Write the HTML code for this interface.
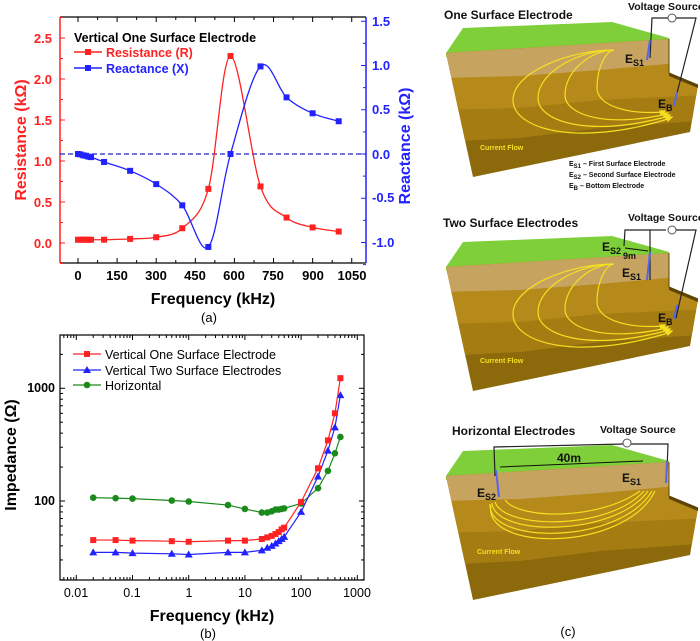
<!DOCTYPE html>
<html><head><meta charset="utf-8"><style>
body{margin:0;background:#fff}
svg{display:block}
text{font-family:"Liberation Sans",sans-serif}
.b{font-weight:bold}
.c{font-family:"DejaVu Sans","Liberation Sans",sans-serif;font-weight:bold}
</style></head><body>
<svg id="s" width="700" height="641" viewBox="0 0 700 641" xmlns="http://www.w3.org/2000/svg">
<defs>
<clipPath id="fc"><path d="M446,53 L669,39 L669,73 L698,85 L690,132 L473,177 Z"/></clipPath>
<g id="blk">
  <path d="M446,53 L463,28 L612,22 L669,38 L669,40 L446,55 Z" fill="#7fcf3a"/>
  <path d="M446,53 L669,39 L669,42 L446,57 Z" fill="#a6e83a"/>
  <g clip-path="url(#fc)">
    <rect x="440" y="30" width="270" height="160" fill="#8c6a0c"/>
    <path d="M440,0 L710,0 L710,120 L600,128 L520,138 L440,142 Z" fill="#a47c12"/>
    <path d="M440,0 L710,0 L710,95 L600,100 L520,108 L440,110 Z" fill="#b5891a"/>
    <path d="M440,0 L710,0 L710,60 L600,70 L520,76 L440,78 Z" fill="#c6a460"/>
  </g>
  <path d="M669,73 L698,85 L698,88 L669,76 Z" fill="#5e4506"/>
  <path d="M669,39 L669,73 L698,85" fill="none" stroke="#5e4506" stroke-width="1"/>
</g>
</defs>
<rect width="700" height="641" fill="#fff"/>

<!-- ===== Chart (a) ===== -->
<g id="ga">
<line x1="60" y1="17" x2="366" y2="17" stroke="#000" stroke-width="1.2"/>
<line x1="60" y1="263" x2="366" y2="263" stroke="#000" stroke-width="1.2"/>
<line x1="60" y1="17" x2="60" y2="263" stroke="#f22" stroke-width="1.5"/>
<line x1="366" y1="17" x2="366" y2="263" stroke="#22f" stroke-width="1.5"/>
<line x1="60" y1="154" x2="366" y2="154" stroke="#22c" stroke-width="1.3" stroke-dasharray="5,3"/>
</g>
<g class="b" font-size="13" fill="#f22" text-anchor="end">
<text x="52" y="248">0.0</text><text x="52" y="207">0.5</text><text x="52" y="166">1.0</text><text x="52" y="125">1.5</text><text x="52" y="84">2.0</text><text x="52" y="43">2.5</text>
</g>
<g class="b" font-size="13" fill="#22f">
<text x="372" y="247">-1.0</text><text x="372" y="202">-0.5</text><text x="372" y="159">0.0</text><text x="372" y="114">0.5</text><text x="372" y="70">1.0</text><text x="372" y="26">1.5</text>
</g>
<g class="b" font-size="13" fill="#000" text-anchor="middle">
<text x="78" y="280">0</text><text x="117" y="280">150</text><text x="156" y="280">300</text><text x="195" y="280">450</text><text x="234" y="280">600</text><text x="273" y="280">750</text><text x="313" y="280">900</text><text x="352" y="280">1050</text>
</g>
<text class="b" x="213" y="304" font-size="16" text-anchor="middle">Frequency (kHz)</text>
<text x="209" y="322" font-size="13" text-anchor="middle">(a)</text>
<text class="b" x="26" y="140" font-size="16" fill="#f22" text-anchor="middle" transform="rotate(-90 26 140)">Resistance (kΩ)</text>
<text class="b" x="410" y="146" font-size="16" fill="#22f" text-anchor="middle" transform="rotate(-90 410 146)">Reactance (kΩ)</text>
<text class="b" x="74" y="42" font-size="12.5">Vertical One Surface Electrode</text>
<line x1="74" y1="52" x2="102" y2="52" stroke="#f22" stroke-width="1.5"/><rect x="85" y="49" width="6" height="6" fill="#f22"/>
<text class="b" x="106" y="57" font-size="12.5" fill="#f22">Resistance (R)</text>
<line x1="74" y1="68" x2="102" y2="68" stroke="#22f" stroke-width="1.5"/><rect x="85" y="65" width="6" height="6" fill="#22f"/>
<text class="b" x="106" y="73" font-size="12.5" fill="#22f">Reactance  (X)</text>
<g id="pa"></g>

<!-- ===== Chart (b) ===== -->
<rect x="60" y="335" width="304" height="245" fill="none" stroke="#000" stroke-width="1.2"/>
<g class="b" font-size="12.5" text-anchor="end">
<text x="55" y="392">1000</text><text x="55" y="505">100</text>
</g>
<g font-size="12.5" text-anchor="middle">
<text x="76" y="597">0.01</text><text x="132" y="597">0.1</text><text x="189" y="597">1</text><text x="245" y="597">10</text><text x="301" y="597">100</text><text x="357" y="597">1000</text>
</g>
<text class="b" x="212" y="621" font-size="16" text-anchor="middle">Frequency (kHz)</text>
<text x="208" y="638" font-size="13" text-anchor="middle">(b)</text>
<text class="b" x="16" y="455" font-size="16" text-anchor="middle" transform="rotate(-90 16 455)">Impedance (Ω)</text>
<line x1="73" y1="354" x2="101" y2="354" stroke="#f22" stroke-width="1.2"/><rect x="84" y="351" width="6" height="6" fill="#f22"/>
<text x="105" y="359" font-size="12.5">Vertical One Surface Electrode</text>
<line x1="73" y1="370" x2="101" y2="370" stroke="#22f" stroke-width="1.2"/><path d="M87,366 L91,373 L83,373 Z" fill="#22f"/>
<text x="105" y="375" font-size="12.5">Vertical Two Surface Electrodes</text>
<line x1="73" y1="385" x2="101" y2="385" stroke="#1a8a1a" stroke-width="1.2"/><circle cx="87" cy="385" r="3.3" fill="#1a8a1a"/>
<text x="105" y="390" font-size="12.5">Horizontal</text>
<g id="pb"></g>

<!-- ===== Diagrams (c) ===== -->
<use href="#blk"/>
<use href="#blk" transform="translate(0,214)"/>
<use href="#blk" transform="translate(0,423)"/>
<g id="arcs" fill="none" stroke="#f5e020" stroke-width="1.2">
<!-- block 3 arcs -->
<path d="M505,500 C520,520 600,520 640,491"/>
<path d="M495,502 C505,530 610,530 644,491"/>
<path d="M492,503 C495,537 615,537 648,491"/>
<path d="M490,504 C488,545 620,545 652,491"/>
<path d="M491,505 C482,552 625,552 655,491"/>
</g>
<!-- electrodes & wires -->
<g fill="none" stroke="#222" stroke-width="1.2">
<path d="M650,58 L652,18 L668,18"/><path d="M676,18 L696,18 L674,105"/>
<path d="M624,246 L625,230 L650,230 L650,280"/><path d="M650,230 L666,230"/><path d="M674,230 L696,230 L676,318"/>
<path d="M495,476 L494,447 L623,444"/><path d="M631,444 L668,444 L667,470"/>
</g>
<g stroke="#5566ee" stroke-width="2">
<line x1="650" y1="40" x2="647" y2="60"/><line x1="677" y1="92" x2="674" y2="106"/>
<line x1="650" y1="252" x2="647" y2="280"/><line x1="677" y1="305" x2="674" y2="319"/>
<line x1="496" y1="470" x2="499" y2="497"/><line x1="667" y1="461" x2="666" y2="483"/>
</g>
<g fill="#fff" stroke="#555" stroke-width="1"><circle cx="672" cy="18" r="4"/><circle cx="672" cy="230" r="4"/><circle cx="627" cy="443" r="4"/></g>
<g stroke="#111" stroke-width="1"><line x1="625" y1="248" x2="648" y2="251"/><line x1="500" y1="467" x2="643" y2="461"/></g>
<g class="c" fill="#111">
<text x="444" y="19" font-size="12">One Surface Electrode</text>
<text x="628" y="10" font-size="10.5">Voltage Source</text>
<text x="625" y="63" font-size="12">E<tspan font-size="9" dy="3">S1</tspan></text>
<text x="658" y="108" font-size="12">E<tspan font-size="9" dy="3">B</tspan></text>
<text x="569" y="166" font-size="7">E<tspan dy="2" font-size="6">S1</tspan><tspan dy="-2"> – First Surface Electrode</tspan></text>
<text x="569" y="177" font-size="7">E<tspan dy="2" font-size="6">S2</tspan><tspan dy="-2"> – Second Surface Electrode</tspan></text>
<text x="569" y="188" font-size="7">E<tspan dy="2" font-size="6">B</tspan><tspan dy="-2">   – Bottom Electrode</tspan></text>
<text x="443" y="227" font-size="12">Two Surface Electrodes</text>
<text x="628" y="221" font-size="10.5">Voltage Source</text>
<text x="602" y="251" font-size="12">E<tspan font-size="9" dy="3">S2</tspan></text>
<text x="623" y="259" font-size="9">9m</text>
<text x="622" y="277" font-size="12">E<tspan font-size="9" dy="3">S1</tspan></text>
<text x="658" y="322" font-size="12">E<tspan font-size="9" dy="3">B</tspan></text>
<text x="452" y="435" font-size="12">Horizontal Electrodes</text>
<text x="600" y="433" font-size="10.5">Voltage Source</text>
<text x="557" y="462" font-size="12">40m</text>
<text x="477" y="497" font-size="12">E<tspan font-size="9" dy="3">S2</tspan></text>
<text x="622" y="482" font-size="12">E<tspan font-size="9" dy="3">S1</tspan></text>
</g>
<g class="c" fill="#f5e020" font-size="7">
<text x="480" y="150">Current Flow</text><text x="480" y="363">Current Flow</text><text x="477" y="554">Current Flow</text>
</g>
<text x="568" y="636" font-size="13" text-anchor="middle">(c)</text>
</svg>
<script>
var NS="http://www.w3.org/2000/svg";
function el(p,t,a){var e=document.createElementNS(NS,t);for(var k in a)e.setAttribute(k,a[k]);p.appendChild(e);return e;}
function cr(pts){var d="M"+pts[0][0]+","+pts[0][1];for(var i=0;i<pts.length-1;i++){var p0=pts[i-1]||pts[i],p1=pts[i],p2=pts[i+1],p3=pts[i+2]||p2;
d+=" C"+(p1[0]+(p2[0]-p0[0])/6)+","+(p1[1]+(p2[1]-p0[1])/6)+" "+(p2[0]-(p3[0]-p1[0])/6)+","+(p2[1]-(p3[1]-p1[1])/6)+" "+p2[0]+","+p2[1];}return d;}
// current arcs blocks 1 & 2
var arcs=document.getElementById("arcs");
var A=[[597,88,115,664,112],[565,95,128,667,114],[538,98,138,669,116],[513,100,148,671,118]];
[0,214].forEach(function(o){A.forEach(function(a){var xl=a[0],ym=a[1]+o,yb=a[2]+o,ex=a[3],ey=a[4]+o,sx=614,sy=50+o;
var d="M"+sx+","+sy+" C"+(xl+0.55*(sx-xl))+","+sy+" "+xl+","+(ym-0.55*(ym-sy))+" "+xl+","+ym+
" C"+xl+","+(ym+0.6*(yb-ym))+" "+(xl+0.4*(ex-xl))+","+yb+" "+ex+","+ey;
el(arcs,"path",{d:d});el(arcs,"path",{d:"M"+(ex-4)+","+(ey-1)+" L"+(ex+1)+","+(ey-1)+" L"+(ex-3)+","+(ey+3)+"Z",fill:"#f5e020"});});});
var ga=document.getElementById("ga");
for(var f=0;f<=1050;f+=75){var x=78+f*0.2607,L=(f%150==0)?5:3;el(ga,"line",{x1:x,y1:263,x2:x,y2:263-L,stroke:"#000"});el(ga,"line",{x1:x,y1:17,x2:x,y2:17+L,stroke:"#000"});}
for(var r=-0.25;r<=2.75;r+=0.25){var y=243-r*82,L=(Math.abs(r*2-Math.round(r*2))<1e-6)?5:3;el(ga,"line",{x1:60,y1:y,x2:60+L,y2:y,stroke:"#f22"});}
for(var v=-1.25;v<=1.5;v+=0.25){var y=154-v*88.5,L=(Math.abs(v*2-Math.round(v*2))<1e-6)?5:3;el(ga,"line",{x1:366,y1:y,x2:366-L,y2:y,stroke:"#22f"});}
var pa=document.getElementById("pa");
var R=[[0,.04],[10,.04],[20,.04],[30,.04],[40,.04],[50,.04],[100,.04],[200,.05],[300,.07],[400,.18],[500,.66],[585,2.28],[700,.69],[800,.31],[900,.19],[1000,.14]];
var X=[[0,0],[10,-.005],[20,-.015],[30,-.02],[40,-.03],[50,-.035],[100,-.09],[200,-.19],[300,-.34],[400,-.58],[500,-1.05],[585,0],[700,.99],[800,.64],[900,.46],[1000,.37]];
function draw(p,data,fx,fy,col){var pts=data.map(function(d){return[+fx(d[0]).toFixed(2),+fy(d[1]).toFixed(2)]});el(p,"path",{d:cr(pts),fill:"none",stroke:col,"stroke-width":1.3});return pts;}
draw(pa,R,function(f){return 78+f*.2607},function(r){return 243-r*82},"#f22").forEach(function(q){el(pa,"rect",{x:q[0]-3,y:q[1]-3,width:6,height:6,fill:"#f22"})});
draw(pa,X,function(f){return 78+f*.2607},function(v){return 154-v*88.5},"#22f").forEach(function(q){el(pa,"rect",{x:q[0]-3,y:q[1]-3,width:6,height:6,fill:"#22f"})});
var pb=document.getElementById("pb");
function bx(f){return 76.3+(Math.log10(f)+2)*56.2}function by(z){return 501-(Math.log10(z)-2)*112.7}
for(var e=-3;e<=3;e++)for(var m=1;m<10;m++){var f=m*Math.pow(10,e),x=bx(f);if(x<60||x>364)continue;var L=m==1?5:3;
el(pb,"line",{x1:x,y1:580,x2:x,y2:580-L,stroke:"#000"});el(pb,"line",{x1:x,y1:335,x2:x,y2:335+L,stroke:"#000"});}
for(var e=1;e<=3;e++)for(var m=1;m<10;m++){var z=m*Math.pow(10,e),y=by(z);if(y<335||y>580)continue;var L=m==1?5:3;
el(pb,"line",{x1:60,y1:y,x2:60+L,y2:y,stroke:"#000"});el(pb,"line",{x1:364,y1:y,x2:364-L,y2:y,stroke:"#000"});}
var F=[.02,.05,.1,.5,1,5,10,20,25,30,35,40,45,50,100,200,300,400,500];
var ZR=[45,45,44.5,44,43.5,44.5,44.5,46,47.5,49,51,53,56,58,98,195,345,600,1230];
var ZB=[35,35,34.5,34,33.5,35,35,36.5,38.5,40,42,44,46,48,80,165,280,450,870];
var ZG=[107,106,105,101,99,92,85,79,79,81,84,84,85,86,95,130,185,265,370];
function line(Z,col,mk){var pts=F.map(function(f,i){return[bx(f),by(Z[i])]});el(pb,"polyline",{points:pts.map(function(q){return q.join(",")}).join(" "),fill:"none",stroke:col,"stroke-width":1.2});
pts.forEach(function(q){if(mk=="s")el(pb,"rect",{x:q[0]-3,y:q[1]-3,width:6,height:6,fill:col});else if(mk=="t")el(pb,"path",{d:"M"+q[0]+","+(q[1]-4)+" l4,7 l-8,0 z",fill:col});else el(pb,"circle",{cx:q[0],cy:q[1],r:3.3,fill:col});});}
line(ZG,"#1a8a1a","c");line(ZB,"#22f","t");line(ZR,"#f22","s");
</script>
</body></html>
